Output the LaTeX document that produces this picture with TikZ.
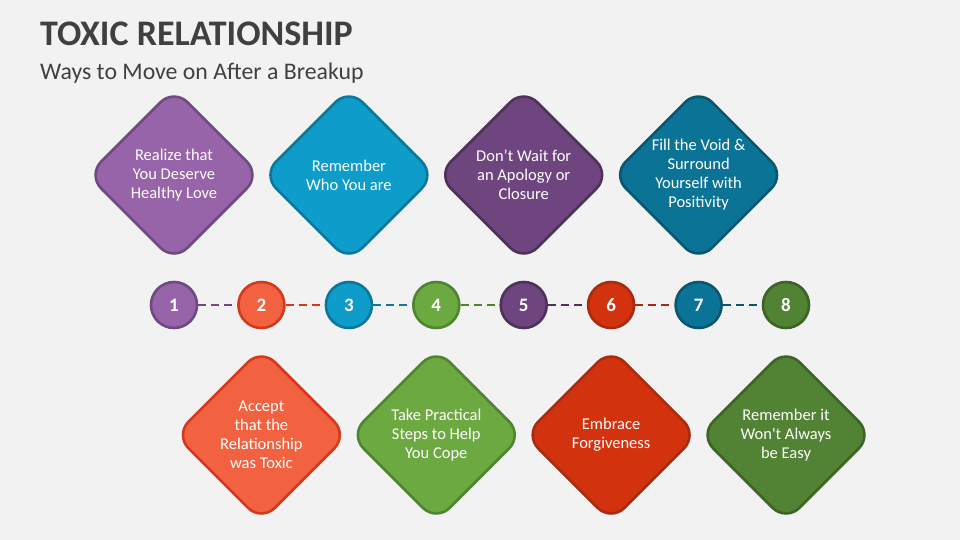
\documentclass[tikz,border=0pt]{standalone}
\usepackage{fontspec}
\setmainfont{Carlito}[Ligatures=TeXOff]
\usetikzlibrary{shadows,backgrounds}
\definecolor{bg}{HTML}{F2F2F2}
\definecolor{ttl}{HTML}{404040}
\definecolor{fA}{HTML}{9763A9}\definecolor{bA}{HTML}{6F4A80}
\definecolor{fB}{HTML}{F26240}\definecolor{bB}{HTML}{D4391C}
\definecolor{fC}{HTML}{0E9DCB}\definecolor{bC}{HTML}{0C7799}
\definecolor{fD}{HTML}{6CAA41}\definecolor{bD}{HTML}{4F8430}
\definecolor{fE}{HTML}{6F4580}\definecolor{bE}{HTML}{4E3259}
\definecolor{fF}{HTML}{D3320E}\definecolor{bF}{HTML}{A82A0F}
\definecolor{fG}{HTML}{0B7396}\definecolor{bG}{HTML}{0A566E}
\definecolor{fH}{HTML}{528233}\definecolor{bH}{HTML}{3D6325}
\tikzset{
  dia/.style 2 args={rectangle, rotate=45, minimum size=122pt, inner sep=0pt,
    rounded corners=19pt, fill=#1, draw=#2, line width=2.6pt,
    drop shadow={shadow xshift=0pt, shadow yshift=-1.5pt, opacity=0.22}},
  diatext/.style={text=white, align=center, font=\fontsize{16.5}{19}\selectfont},
  num/.style 2 args={circle, minimum size=46pt, inner sep=0pt, fill=#1, draw=#2,
    line width=2.6pt, text=white, font=\fontsize{19}{19}\selectfont\bfseries,
    drop shadow={shadow xshift=0pt, shadow yshift=-1pt, opacity=0.2}},
  stem/.style={line width=2.6pt, draw=#1},
  dashlink/.style={line width=2pt, draw=#1, dash pattern=on 8pt off 5pt},
}
\begin{document}
\begin{tikzpicture}[x=1pt,y=-1pt]
\fill[bg] (0,0) rectangle (960,540);
\useasboundingbox (0,0) rectangle (960,540);
\node[anchor=base west, inner sep=0pt, text=ttl, font=\fontsize{36}{36}\selectfont\bfseries] (title) at (40,46) {TOXIC RELATIONSHIP};
\node[anchor=base west, inner sep=0pt, text=ttl, font=\fontsize{23.8}{24}\selectfont] (subtitle) at (40,80) {Ways to Move on After a Breakup};

% circles
\node[num={fA}{bA}] (c1) at (174,305) {1};
\node[num={fB}{bB}] (c2) at (261.4,305) {2};
\node[num={fC}{bC}] (c3) at (348.9,305) {3};
\node[num={fD}{bD}] (c4) at (436.3,305) {4};
\node[num={fE}{bE}] (c5) at (523.7,305) {5};
\node[num={fF}{bF}] (c6) at (611.1,305) {6};
\node[num={fG}{bG}] (c7) at (698.6,305) {7};
\node[num={fH}{bH}] (c8) at (786,305) {8};

% diamonds
\node[dia={fA}{bA}] (d1) at (174,175) {};
\node[dia={fB}{bB}] (d2) at (261.4,435) {};
\node[dia={fC}{bC}] (d3) at (348.9,175) {};
\node[dia={fD}{bD}] (d4) at (436.3,435) {};
\node[dia={fE}{bE}] (d5) at (523.7,175) {};
\node[dia={fF}{bF}] (d6) at (611.1,435) {};
\node[dia={fG}{bG}] (d7) at (698.6,175) {};
\node[dia={fH}{bH}] (d8) at (786,435) {};

\node[diatext] (t1) at (d1.center) {Realize that\\You Deserve\\Healthy Love};
\node[diatext] (t2) at (d2.center) {Accept\\that the\\Relationship\\was Toxic};
\node[diatext] (t3) at (d3.center) {Remember\\Who You are};
\node[diatext] (t4) at (d4.center) {Take Practical\\Steps to Help\\You Cope};
\node[diatext] (t5) at (d5.center) {Don’t Wait for\\an Apology or\\Closure};
\node[diatext] (t6) at (d6.center) {Embrace\\Forgiveness};
\node[diatext] (t7) at (d7.center) {Fill the Void \&\\Surround\\Yourself with\\Positivity};
\node[diatext] (t8) at (d8.center) {Remember it\\Won't Always\\be Easy};

\begin{pgfonlayer}{background}
\draw[stem=bA] (c1.center) -- (d1.center);
\draw[stem=bB] (c2.center) -- (d2.center);
\draw[stem=bC] (c3.center) -- (d3.center);
\draw[stem=bD] (c4.center) -- (d4.center);
\draw[stem=bE] (c5.center) -- (d5.center);
\draw[stem=bF] (c6.center) -- (d6.center);
\draw[stem=bG] (c7.center) -- (d7.center);
\draw[stem=bH] (c8.center) -- (d8.center);
\end{pgfonlayer}

\draw[dashlink=bA] (c1.east) -- (c2.west);
\draw[dashlink=bB] (c2.east) -- (c3.west);
\draw[dashlink=bC] (c3.east) -- (c4.west);
\draw[dashlink=bD] (c4.east) -- (c5.west);
\draw[dashlink=bE] (c5.east) -- (c6.west);
\draw[dashlink=bF] (c6.east) -- (c7.west);
\draw[dashlink=bG] (c7.east) -- (c8.west);
\end{tikzpicture}
\end{document}
